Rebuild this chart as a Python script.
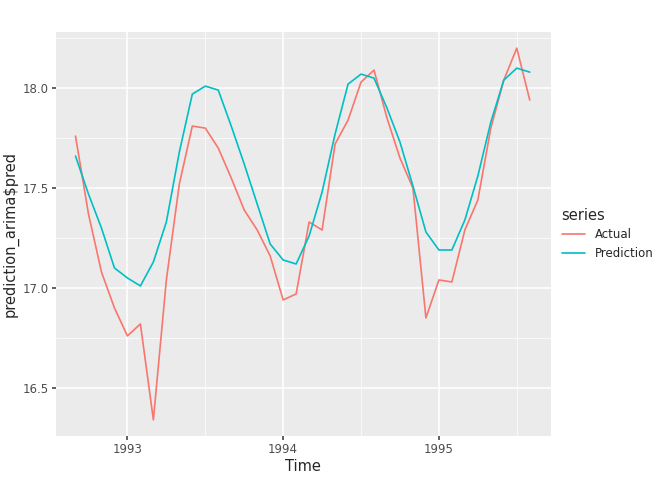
import numpy as np, pandas as pd, seaborn as sns, matplotlib
matplotlib.use("Agg")
import matplotlib.pyplot as plt
from matplotlib.ticker import MultipleLocator

actual = [17.76,17.37,17.08,16.90,16.76,16.82,16.34,17.04,17.52,17.81,17.80,17.70,
          17.55,17.39,17.29,17.16,16.94,16.97,17.33,17.29,17.72,17.84,18.03,18.09,
          17.85,17.65,17.50,16.85,17.04,17.03,17.29,17.44,17.80,18.04,18.20,17.94]
prediction = [17.66,17.47,17.30,17.10,17.05,17.01,17.13,17.33,17.68,17.97,18.01,17.99,
              17.81,17.62,17.42,17.22,17.14,17.12,17.26,17.48,17.77,18.02,18.07,18.05,
              17.90,17.73,17.51,17.28,17.19,17.19,17.34,17.56,17.83,18.04,18.10,18.08]
time = 1992 + 8/12 + np.arange(len(actual))/12

df = pd.concat([pd.DataFrame({"Time": time, "value": actual, "series": "Actual"}),
                pd.DataFrame({"Time": time, "value": prediction, "series": "Prediction"})])

sns.set_theme(style="darkgrid", rc={"axes.facecolor": "#EBEBEB", "grid.color": "white"})
fig = plt.figure(figsize=(6.72, 4.8), dpi=100)
ax = fig.add_axes([0.083, 0.092, 0.737, 0.841])
sns.lineplot(data=df, x="Time", y="value", hue="series",
             palette={"Actual": "#F8766D", "Prediction": "#00BFC4"}, ax=ax, lw=1.2)
ax.set_xlim(1992.54, 1995.72)
ax.set_ylim(16.26, 18.28)
ax.xaxis.set_major_locator(MultipleLocator(1))
ax.xaxis.set_minor_locator(MultipleLocator(0.5))
ax.yaxis.set_major_locator(MultipleLocator(0.5))
ax.yaxis.set_minor_locator(MultipleLocator(0.25))
ax.xaxis.set_major_formatter(matplotlib.ticker.FuncFormatter(lambda v, p: f"{int(round(v))}"))
ax.grid(which="major", color="white", lw=1.1)
ax.grid(which="minor", color="white", lw=0.5)
for s in ax.spines.values(): s.set_visible(False)
ax.tick_params(which="both", length=3, pad=2, colors="#4D4D4D", labelsize=8.5, left=True, bottom=True)
ax.tick_params(which="minor", length=0)
ax.set_xlabel("Time", fontsize=10.5, labelpad=2)
ax.set_ylabel("prediction_arima$pred", fontsize=10.5, labelpad=3)
leg = ax.legend(title="series", loc="center left", bbox_to_anchor=(1.0, 0.5),
                frameon=False, fontsize=8.5, title_fontsize=10.5, alignment="left")
plt.savefig("out.png", dpi=100)
